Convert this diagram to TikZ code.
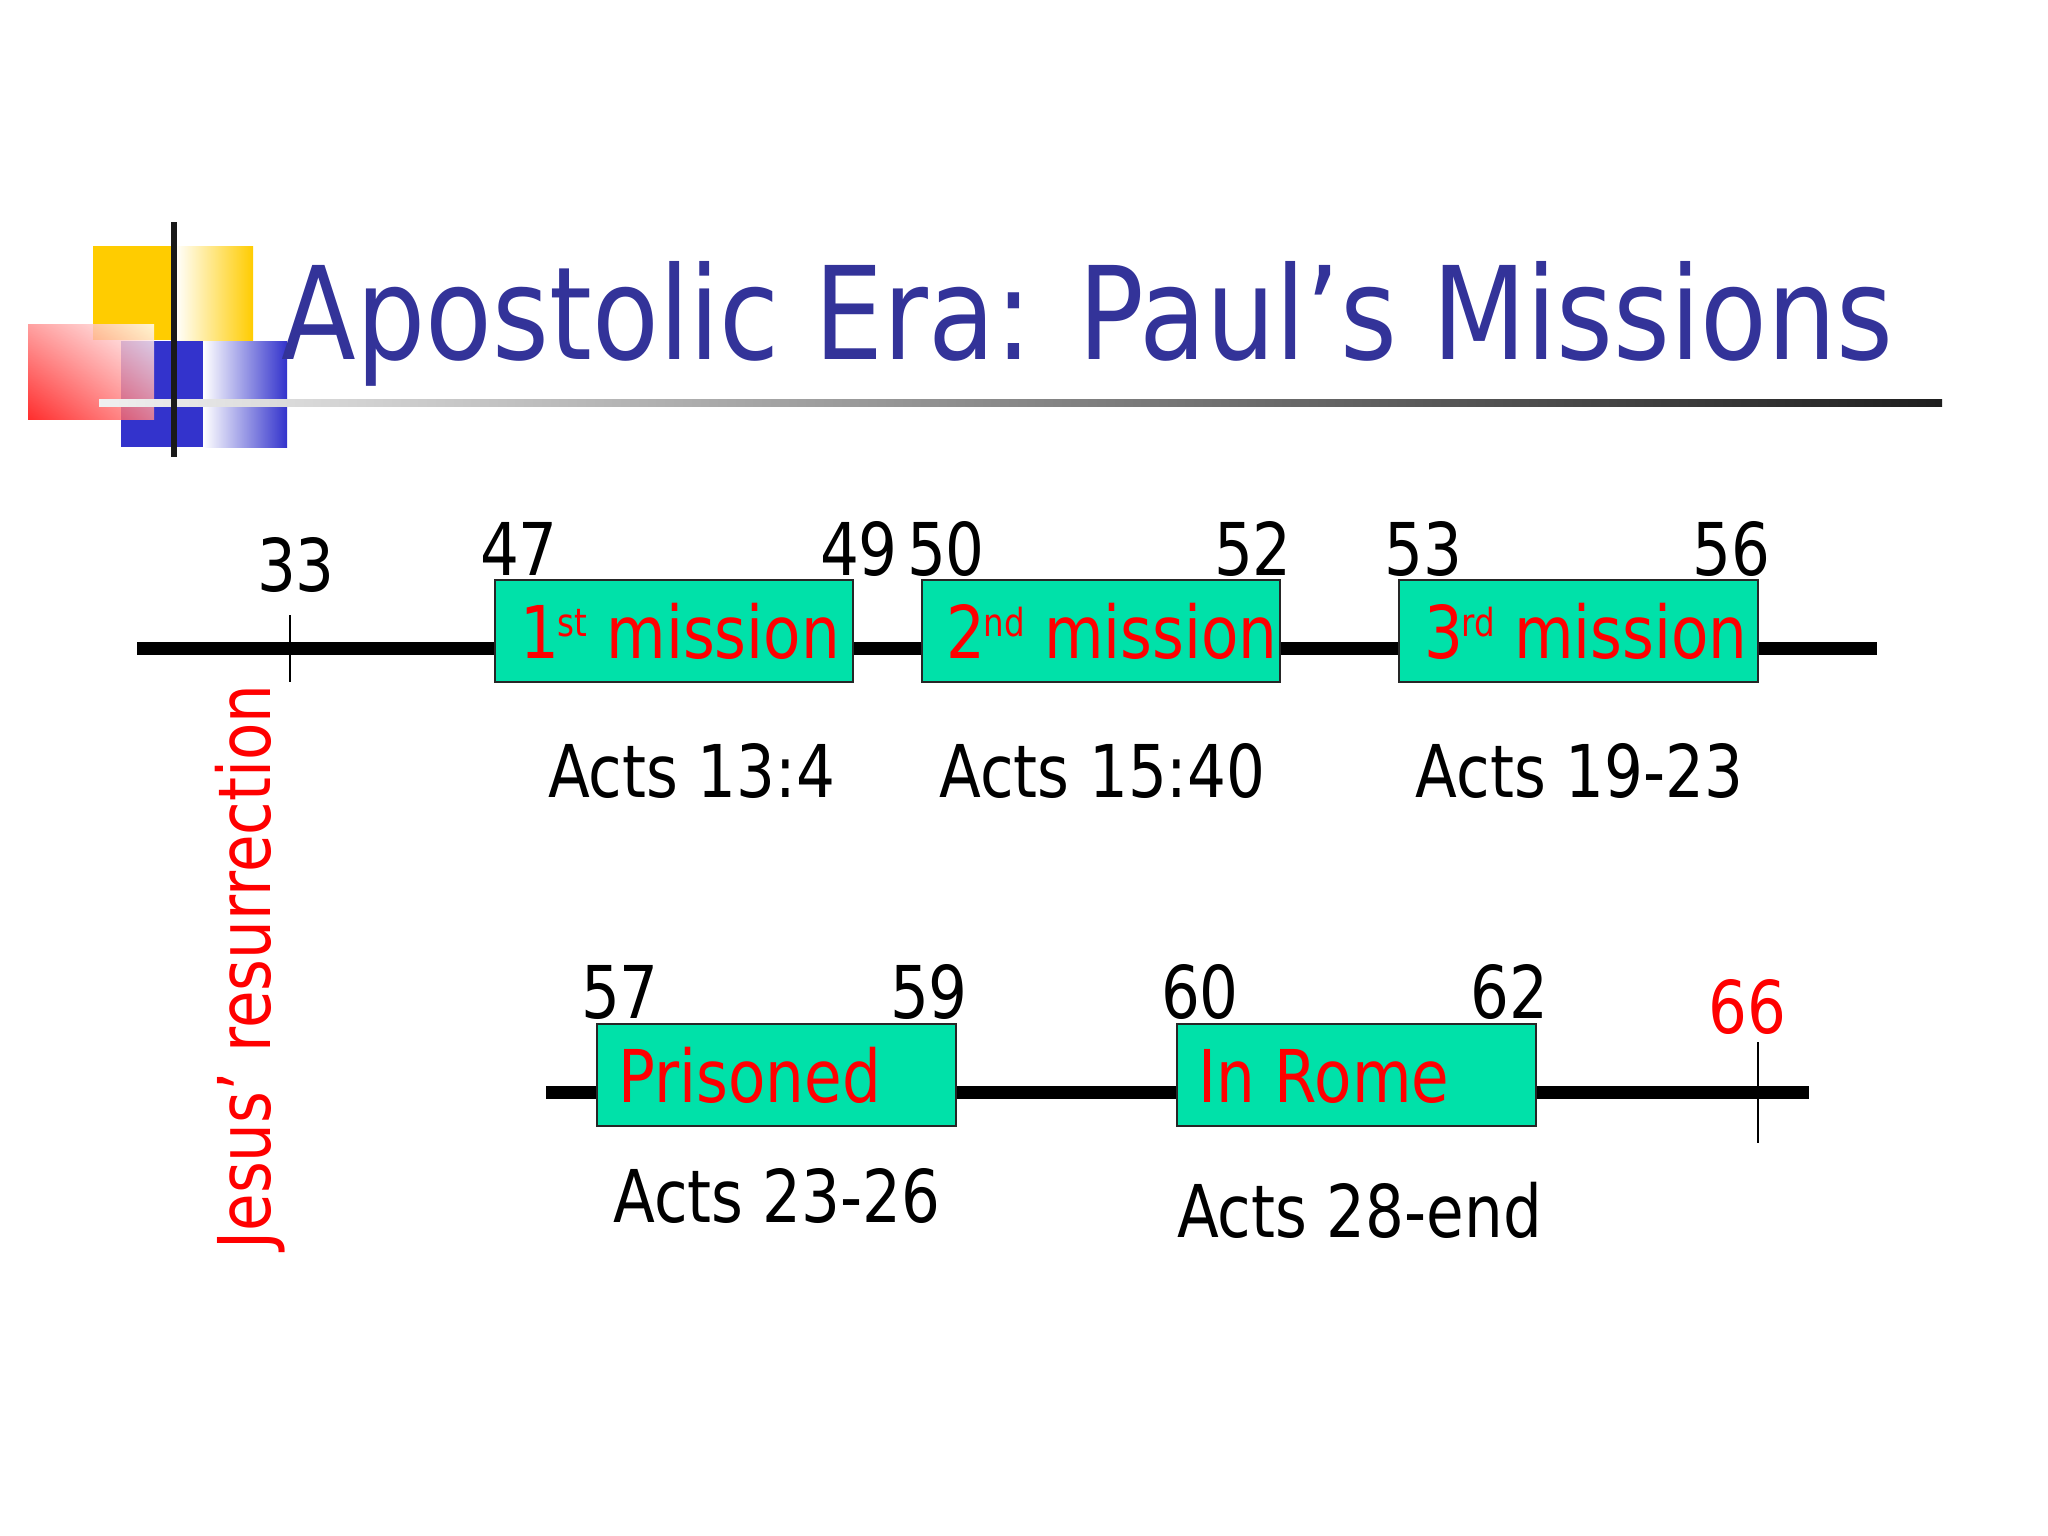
\documentclass[tikz,border=0pt]{standalone}
\usepackage{fontspec}
\setmainfont{DejaVu Sans}[FakeStretch=0.84]
\newfontfamily\titlefont{DejaVu Sans}[FakeStretch=0.846]
\usetikzlibrary{calc,shadings}
\definecolor{titleblue}{HTML}{333399}
\definecolor{boxgreen}{HTML}{00E1A9}
\definecolor{gold}{HTML}{FFCC00}
\definecolor{logoblue}{HTML}{3333CC}
\definecolor{pptred}{HTML}{FF0000}
\newcommand{\ordsup}[1]{\kern-0.03em\raisebox{6.2pt}{\fontsize{11}{12}\selectfont #1}}
\tikzset{
  lbl/.style={font=\fontsize{20.7}{24}\selectfont, inner sep=0pt, anchor=base},
  rlbl/.style={lbl, text=pptred},
  btxt/.style={font=\fontsize{20.7}{24}\selectfont, inner sep=0pt, anchor=base west, text=pptred},
  mbox/.style={draw=black!85, line width=0.6pt, fill=boxgreen, minimum width=3.58cm, minimum height=1.02cm, inner sep=0pt},
  tline/.style={line width=3.7pt, black},
  ticks/.style={line width=0.6pt, black},
}
\begin{document}
\begin{tikzpicture}[x=0.01cm,y=-0.01cm]
\useasboundingbox (0,0) rectangle (2048,1536);
\fill[white] (0,0) rectangle (2048,1536);
% logo
\fill[gold] (93,246) rectangle (175,340);
\shade[left color=white, right color=gold] (175,246) rectangle (253,340);
\fill[logoblue] (121,341) rectangle (203,447);
\shade[left color=white, right color=logoblue] (203,341) rectangle (287,447);
\shade[opacity=0.82, lower left=pptred, upper right=white, upper left=pptred!45!white, lower right=pptred!45!white] (28,324) rectangle (154,419);
\shade[left color=black!6, right color=black!88] (99,399) rectangle (1942,406);
\fill[black!90] (171,222) rectangle (177,457);
% title
\node[anchor=base west, inner sep=0pt, text=titleblue, font=\titlefont\fontsize{36.7}{44}\selectfont] (title) at (281,359) {Apostolic Era: Paul’s Missions};
% boxes row 1
\node[mbox] (b1) at (674,631) {};
\node[mbox] (b2) at (1101,631) {};
\node[mbox] (b3) at (1578.5,631) {};
\coordinate (l1s) at (137,648);
\coordinate (l1e) at (1877,648);
\draw[tline] (l1s) -- (l1s -| b1.west);
\draw[tline] (b1.east |- l1s) -- (b2.west |- l1s);
\draw[tline] (b2.east |- l1s) -- (b3.west |- l1s);
\draw[tline] (b3.east |- l1s) -- (l1e);
\coordinate (k33a) at (290,615);
\coordinate (k33b) at (290,682);
\draw[ticks] (k33a) -- (k33b);
\node[btxt] (t1) at (520,658) {1\ordsup{st} mission};
\node[btxt] (t2) at (946,658) {2\ordsup{nd} mission};
\node[btxt] (t3) at (1424,658) {3\ordsup{rd} mission};
\node[lbl] (n33) at (296,591) {33};
\node[lbl] (n47) at (519,575) {47};
\node[lbl] (n49) at (859,575) {49};
\node[lbl] (n50) at (946,575) {50};
\node[lbl] (n52) at (1253,575) {52};
\node[lbl] (n53) at (1423,575) {53};
\node[lbl] (n56) at (1731,575) {56};
\node[lbl] (a1) at (691.5,797) {Acts 13:4};
\node[lbl] (a2) at (1102.5,797) {Acts 15:40};
\node[lbl] (a3) at (1579.5,797) {Acts 19-23};
% row 2
\node[mbox] (bp) at (776.5,1075) {};
\node[mbox] (br) at (1356.5,1075) {};
\coordinate (l2s) at (546,1092);
\coordinate (l2e) at (1809,1092);
\draw[tline] (l2s) -- (l2s -| bp.west);
\draw[tline] (bp.east |- l2s) -- (br.west |- l2s);
\draw[tline] (br.east |- l2s) -- (l2e);
\coordinate (k66a) at (1758,1042);
\coordinate (k66b) at (1758,1143);
\draw[ticks] (k66a) -- (k66b);
\node[btxt] (tp) at (618,1102) {Prisoned};
\node[btxt] (tr) at (1198,1102) {In Rome};
\node[lbl] (n57) at (620,1018) {57};
\node[lbl] (n59) at (929,1018) {59};
\node[lbl] (n60) at (1200,1018) {60};
\node[lbl] (n62) at (1509,1018) {62};
\node[rlbl] (n66) at (1747,1033) {66};
\node[lbl] (a4) at (777,1222) {Acts 23-26};
\node[lbl] (a5) at (1359.5,1237) {Acts 28-end};
% rotated label
\node[rlbl, rotate=90] (jr) at (270,967) {Jesus’ resurrection};
\end{tikzpicture}
\end{document}
